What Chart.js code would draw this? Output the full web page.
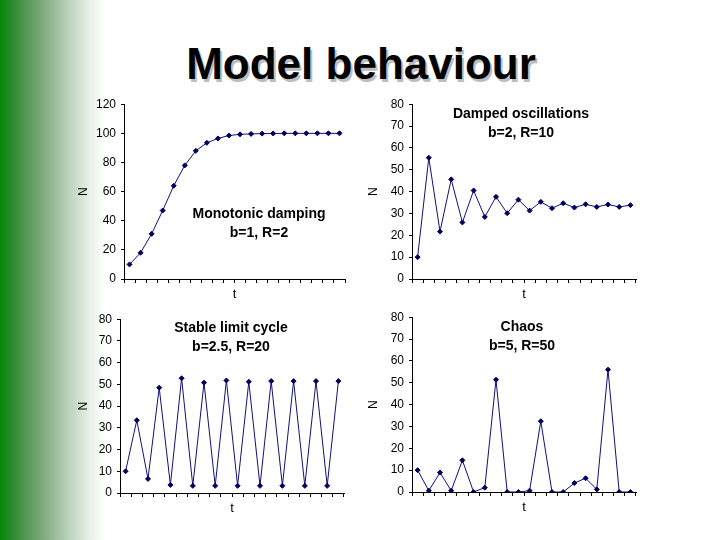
<!DOCTYPE html>
<html>
<head>
<meta charset="utf-8">
<title>Model behaviour</title>
<script src="https://cdn.jsdelivr.net/npm/chart.js@4"></script>
<style>
	body { margin: 0; width: 720px; height: 540px; background: #fff; position: relative; overflow: hidden; font-family: "Liberation Sans", Arial, sans-serif; }
	.side { position: absolute; left: 0; top: 0; width: 105px; height: 540px;
		background: linear-gradient(to right, #068806 0%, #2f8a2f 12%, #6fa26f 35%, #b3cdb3 62%, #e8f0e8 85%, #ffffff 100%); }
	.title { position: absolute; left: 0; width: 722px; top: 41px; text-align: center; font-size: 44px; line-height: 45px; font-weight: bold; color: #000; text-shadow: 2px 3px 0 #bdbdbd; }
	.panel { position: absolute; }
	.note { position: absolute; width: 200px; margin-left: -100px; text-align: center; font-size: 14px; font-weight: bold; line-height: 19px; color: #000; }
</style>
</head>
<body>
<div class="side"></div>
<div class="title">Model behaviour</div>

<canvas id="p1" class="panel" width="277" height="216" style="left:76px;top:92px"></canvas>
<canvas id="p2" class="panel" width="278" height="216" style="left:366px;top:92px"></canvas>
<canvas id="p3" class="panel" width="276" height="215" style="left:76px;top:307px"></canvas>
<canvas id="p4" class="panel" width="278" height="216" style="left:366px;top:305px"></canvas>

<div class="note" style="left:259px;top:204px">Monotonic damping<br>b=1, R=2</div>
<div class="note" style="left:521px;top:104px">Damped oscillations<br>b=2, R=10</div>
<div class="note" style="left:231px;top:318px">Stable limit cycle<br>b=2.5, R=20</div>
<div class="note" style="left:522px;top:317px">Chaos<br>b=5, R=50</div>

<script>
// time steps (x categories, no printed labels)
var timeSteps = ['1', '2', '3', '4', '5', '6', '7', '8', '9', '10', '11', '12', '13', '14', '15', '16', '17', '18', '19', '20'];

// N values
var monotonic = [10, 18, 31, 47, 64, 78, 88, 93.5, 96.5, 98.5, 99.3, 99.6, 99.8, 99.9, 100, 100, 100, 100, 100, 100];
var damped = [10, 55.5, 21.7, 45.6, 25.9, 40.5, 28.4, 37.6, 30.1, 36.3, 31.3, 35.3, 32.4, 34.7, 32.7, 34.2, 33, 34.1, 33, 33.8];
var limitCycle = [10, 33.5, 6.5, 48.5, 3.7, 52.8, 3.3, 50.8, 3.3, 51.8, 3.3, 51.2, 3.3, 51.5, 3.3, 51.5, 3.3, 51.5, 3.3, 51.5];
var chaos = [10, 0.6, 8.9, 0.6, 14.5, 0, 2, 51.4, 0, 0, 0.6, 32.4, 0, 0, 4.1, 6.3, 1.2, 56, 0, 0];

// y tick settings per panel
var yMax1 = 120, yStep1 = 20;
var yMax = 80, yStep = 10;

var tickFont = { family: '"Liberation Sans", Arial, sans-serif', size: 12 };

function panel(id, values, max, step, axisWidth, padRight) {
	return new Chart(document.getElementById(id), {
		type: 'line',
		data: {
			labels: timeSteps,
			datasets: [{
				data: values,
				borderColor: '#10107a',
				borderWidth: 1,
				tension: 0,
				pointStyle: 'rectRot',
				pointRadius: 2.5,
				pointBackgroundColor: '#000060',
				pointBorderColor: '#000060',
				pointBorderWidth: 1
			}]
		},
		options: {
			responsive: false,
			animation: false,
			events: [],
			layout: { padding: { top: 8, right: padRight, left: 0, bottom: 0 } },
			plugins: { legend: { display: false }, tooltip: { enabled: false } },
			scales: {
				x: {
					type: 'category',
					offset: true,
					grid: { offset: true, drawOnChartArea: false, drawTicks: true, tickLength: 4, color: '#000', lineWidth: 1 },
					border: { display: true, color: '#000', width: 1 },
					ticks: { callback: function() { return ''; }, autoSkip: false, maxRotation: 0, font: tickFont },
					title: { display: true, text: 't', color: '#000', font: { family: tickFont.family, size: 13 }, padding: { top: 0, bottom: 6 } },
					afterFit: function(scale) { scale.height = 29; }
				},
				y: {
					min: 0,
					max: max,
					grid: { drawOnChartArea: false, drawTicks: true, tickLength: 3, color: '#000', lineWidth: 1 },
					border: { display: true, color: '#000', width: 1 },
					ticks: { stepSize: step, color: '#000', padding: 5, font: tickFont },
					title: { display: true, text: 'N', color: '#000', font: { family: tickFont.family, size: 12 }, padding: 0 },
					afterFit: function(scale) { scale.width = axisWidth; }
				}
			}
		}
	});
}

panel('p1', monotonic, yMax1, yStep1, 48, 8);
panel('p2', damped, yMax, yStep, 46, 8);
panel('p3', limitCycle, yMax, yStep, 44, 8);
panel('p4', chaos, yMax, yStep, 46, 8);
</script>
</body>
</html>
